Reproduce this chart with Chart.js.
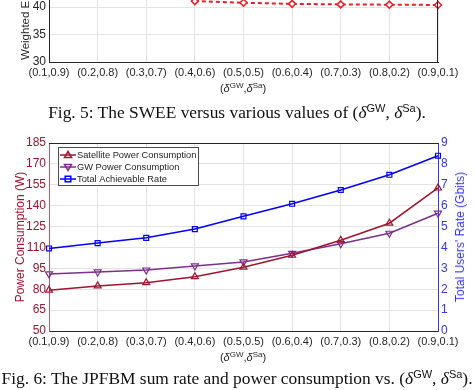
<!DOCTYPE html>
<html>
<head>
<meta charset="utf-8">
<script src="https://cdn.jsdelivr.net/npm/chart.js@4.4.0/dist/chart.umd.min.js"></script>
<style>
  body { margin: 0; width: 474px; height: 390px; overflow: hidden; background: #fff; position: relative; font-family: "Liberation Sans", Arial, sans-serif; }
  #top { position: absolute; left: 0; top: 0; width: 474px; height: 96px; overflow: hidden; }
  #c5wrap { position: absolute; left: 0; top: -25px; width: 474px; height: 110px; }
  #c6wrap { position: absolute; left: 0; top: 130px; width: 474px; height: 230px; }
  .xt { position: absolute; font-size: 11px; color: #262626; white-space: nowrap; transform: translate(-50%, -50%); }
  .xt sup { font-size: 8px; vertical-align: 0; position: relative; top: -4px; }
  .yt5 { position: absolute; left: 25px; top: 60px; font-size: 11.5px; color: #262626; white-space: nowrap; transform-origin: 0 0; transform: rotate(-90deg) translateY(-50%); }
  .yr { position: absolute; left: 460px; top: 237px; font-size: 12px; color: #3535f0; white-space: nowrap; transform: translate(-50%, -50%) rotate(-90deg); }
  .cap { position: absolute; left: 0; width: 474px; text-align: center; font-family: "Liberation Serif", "Times New Roman", serif; font-size: 17.4px; color: #111; white-space: nowrap; transform: translateY(-50%); }
  .cap sup { font-family: "Liberation Sans", Arial, sans-serif; font-size: 11px; vertical-align: 0; position: relative; top: -6px; }
</style>
</head>
<body>
<div id="top">
  <div id="c5wrap"><canvas id="fig5"></canvas></div>
  <div class="yt5">Weighted Energy Efficiency</div>
  <div class="xt" style="left:243px;top:88px">(<i>δ</i><sup>GW</sup>,<i>δ</i><sup>Sa</sup>)</div>
</div>
<div class="cap" style="top:112px">Fig. 5: The SWEE versus various values of (<i>δ</i><sup>GW</sup>, <i>δ</i><sup>Sa</sup>).</div>
<div id="c6wrap"><canvas id="fig6"></canvas></div>
<div class="yr">Total Users' Rate (Gbits)</div>
<div class="xt" style="left:243px;top:357px">(<i>δ</i><sup>GW</sup>,<i>δ</i><sup>Sa</sup>)</div>
<div class="cap" style="top:378px">Fig. 6: The JPFBM sum rate and power consumption vs. (<i>δ</i><sup>GW</sup>, <i>δ</i><sup>Sa</sup>).</div>

<script>
const categories = ["(0.1,0.9)", "(0.2,0.8)", "(0.3,0.7)", "(0.4,0.6)", "(0.5,0.5)", "(0.6,0.4)", "(0.7,0.3)", "(0.8,0.2)", "(0.9,0.1)"];

// fig 5 (only the bottom of it is visible)
const sweeValues = [null, null, null, 41.1, 40.8, 40.6, 40.5, 40.45, 40.4];
const sweeTicks = [30, 35, 40];

// fig 6
const satPower = [79.3, 82.4, 84.7, 89.0, 95.8, 104.4, 115.2, 127.4, 152.7];
const gwPower = [91.0, 92.4, 93.8, 96.7, 99.6, 105.8, 112.7, 120.2, 134.6];
const totalRate = [3.95, 4.21, 4.46, 4.88, 5.49, 6.09, 6.75, 7.48, 8.39];
const powerTicks = [50, 65, 80, 95, 110, 125, 140, 155, 170, 185];
const rateTicks = [0, 1, 2, 3, 4, 5, 6, 7, 8, 9];

const RED = "#a2142f";
const PURPLE = "#7e2f8e";
const BLUE = "#0000ff";
const AXBLUE = "#3535f0";
const GRID = "#e4e4e4";
const TXT = "#262626";

Chart.defaults.font.family = '"Liberation Sans", Arial, sans-serif';
Chart.defaults.animation = false;

function fixedTicks(list) {
  return scale => { scale.ticks = list.map(v => ({ value: v })); };
}

// MATLAB style box (top + right edge)
const boxPlugin = {
  id: "box",
  afterDraw(chart, args, opts) {
    const a = chart.chartArea;
    const ctx = chart.ctx;
    ctx.save();
    ctx.strokeStyle = opts.color || TXT;
    ctx.lineWidth = 1;
    ctx.beginPath();
    ctx.moveTo(a.left, a.top + 0.5);
    ctx.lineTo(a.right, a.top + 0.5);
    if (opts.right) {
      ctx.moveTo(a.right - 0.5, a.top);
      ctx.lineTo(a.right - 0.5, a.bottom);
    }
    ctx.stroke();
    ctx.restore();
  }
};

function drawMarker(ctx, style, x, y, r) {
  ctx.beginPath();
  if (style === "up") {
    ctx.moveTo(x, y - r);
    ctx.lineTo(x + r, y + r * 0.7);
    ctx.lineTo(x - r, y + r * 0.7);
  } else if (style === "down") {
    ctx.moveTo(x, y + r);
    ctx.lineTo(x + r, y - r * 0.7);
    ctx.lineTo(x - r, y - r * 0.7);
  } else {
    ctx.rect(x - r * 0.8, y - r * 0.8, r * 1.6, r * 1.6);
  }
  ctx.closePath();
  ctx.stroke();
}

// legend box inside the plot, upper left
const legendPlugin = {
  id: "boxLegend",
  afterDraw(chart) {
    const a = chart.chartArea;
    const ctx = chart.ctx;
    const x0 = a.left + 9, y0 = a.top + 4, w = 140, h = 38;
    const styles = ["up", "down", "rect"];
    ctx.save();
    ctx.fillStyle = "#fff";
    ctx.fillRect(x0, y0, w, h);
    ctx.strokeStyle = "#4d4d4d";
    ctx.lineWidth = 1;
    ctx.strokeRect(x0 + 0.5, y0 + 0.5, w, h);
    ctx.font = '9.3px "Liberation Sans", Arial, sans-serif';
    ctx.textBaseline = "middle";
    chart.data.datasets.forEach((ds, i) => {
      const y = y0 + 8 + i * 12;
      ctx.strokeStyle = ds.borderColor;
      ctx.lineWidth = 1.5;
      ctx.beginPath();
      ctx.moveTo(x0 + 2, y);
      ctx.lineTo(x0 + 18, y);
      ctx.stroke();
      drawMarker(ctx, styles[i], x0 + 10, y, 3.5);
      ctx.fillStyle = TXT;
      ctx.fillText(ds.label, x0 + 19, y + 0.5);
    });
    ctx.restore();
  }
};

new Chart(document.getElementById("fig5"), {
  type: "line",
  data: {
    labels: categories,
    datasets: [{
      label: "SWEE",
      data: sweeValues,
      borderColor: "#ee1c25",
      borderWidth: 2,
      borderDash: [4, 3],
      pointStyle: "rectRot",
      pointRadius: 3.5,
      pointBorderWidth: 1.5,
      pointBackgroundColor: "#fff",
      pointBorderColor: "#ee1c25"
    }]
  },
  options: {
    responsive: true,
    maintainAspectRatio: false,
    layout: { padding: { top: 10, right: 36, left: 0, bottom: 0 } },
    plugins: { legend: { display: false }, tooltip: { enabled: false }, box: { right: true } },
    scales: {
      x: {
        grid: { color: GRID, drawTicks: false },
        border: { color: TXT },
        ticks: { color: TXT, font: { size: 11 }, padding: 4, maxRotation: 0, autoSkip: false },
        afterFit: s => { s.height = 23; }
      },
      y: {
        min: 30, max: 44,
        afterBuildTicks: fixedTicks(sweeTicks),
        grid: { color: GRID, drawTicks: false },
        border: { color: TXT },
        ticks: { color: TXT, font: { size: 12 }, padding: 3 },
        afterFit: s => { s.width = 49; }
      }
    }
  },
  plugins: [boxPlugin]
});

new Chart(document.getElementById("fig6"), {
  type: "line",
  data: {
    labels: categories,
    datasets: [
      {
        label: "Satellite Power Consumption",
        data: satPower,
        yAxisID: "y",
        borderColor: RED,
        borderWidth: 1.5,
        pointStyle: "triangle",
        pointRadius: 4,
        pointBorderWidth: 1.2,
        pointBackgroundColor: "rgba(255,255,255,0)",
        pointBorderColor: RED
      },
      {
        label: "GW Power Consumption",
        data: gwPower,
        yAxisID: "y",
        borderColor: PURPLE,
        borderWidth: 1.5,
        pointStyle: "triangle",
        rotation: 180,
        pointRadius: 4,
        pointBorderWidth: 1.2,
        pointBackgroundColor: "rgba(255,255,255,0)",
        pointBorderColor: PURPLE
      },
      {
        label: "Total Achievable Rate",
        data: totalRate,
        yAxisID: "y1",
        borderColor: BLUE,
        borderWidth: 1.5,
        pointStyle: "rect",
        pointRadius: 3.5,
        pointBorderWidth: 1.2,
        pointBackgroundColor: "rgba(255,255,255,0)",
        pointBorderColor: BLUE
      }
    ]
  },
  options: {
    responsive: true,
    maintainAspectRatio: false,
    layout: { padding: { top: 13, right: 0, left: 0, bottom: 0 } },
    plugins: { legend: { display: false }, tooltip: { enabled: false }, box: { right: false } },
    scales: {
      x: {
        grid: { color: GRID, drawTicks: false },
        border: { color: TXT },
        ticks: { color: TXT, font: { size: 11 }, padding: 4, maxRotation: 0, autoSkip: false },
        afterFit: s => { s.height = 29; }
      },
      y: {
        position: "left",
        min: 50, max: 185,
        afterBuildTicks: fixedTicks(powerTicks),
        grid: { color: GRID, drawTicks: false },
        border: { color: "#b8566a" },
        ticks: { color: RED, font: { size: 12 }, padding: 3 },
        title: { display: true, text: "Power Consumption (W)", color: RED, font: { size: 12 }, padding: { top: 13, bottom: 0 } },
        afterFit: s => { s.width = 49; }
      },
      y1: {
        position: "right",
        min: 0, max: 9,
        afterBuildTicks: fixedTicks(rateTicks),
        grid: { display: false, drawTicks: false },
        border: { color: AXBLUE },
        ticks: { color: AXBLUE, font: { size: 12 }, padding: 3 },
        afterFit: s => { s.width = 36; }
      }
    }
  },
  plugins: [boxPlugin, legendPlugin]
});
</script>
</body>
</html>
